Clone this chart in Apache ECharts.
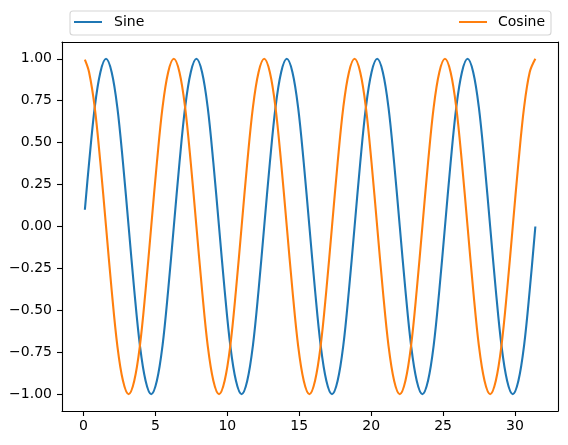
<!DOCTYPE html>
<html>
<head>
<meta charset="utf-8">
<script src="https://cdn.jsdelivr.net/npm/echarts@6/dist/echarts.min.js"></script>
<style>
html,body{margin:0;padding:0;background:#fff;}
#c{width:568px;height:445px;}
</style>
</head>
<body>
<div id="c"></div>
<script>
var xValues = [0.1,
 0.393,0.785,1.178,1.571,1.963,2.356,2.749,3.142,3.534,3.927,4.320,4.712,5.105,5.498,5.890,6.283,
 6.676,7.069,7.461,7.854,8.247,8.639,9.032,9.425,9.817,10.210,10.603,10.996,11.388,11.781,12.174,12.566,
 12.959,13.352,13.744,14.137,14.530,14.923,15.315,15.708,16.101,16.493,16.886,17.279,17.671,18.064,18.457,18.850,
 19.242,19.635,20.028,20.420,20.813,21.206,21.598,21.991,22.384,22.777,23.169,23.562,23.955,24.347,24.740,25.133,
 25.525,25.918,26.311,26.704,27.096,27.489,27.882,28.274,28.667,29.060,29.452,29.845,30.238,30.631,31.023,31.416];
var sineValues = [0.10,
 0.38,0.71,0.92,1,0.92,0.71,0.38,0,-0.38,-0.71,-0.92,-1,-0.92,-0.71,-0.38,0,
 0.38,0.71,0.92,1,0.92,0.71,0.38,0,-0.38,-0.71,-0.92,-1,-0.92,-0.71,-0.38,0,
 0.38,0.71,0.92,1,0.92,0.71,0.38,0,-0.38,-0.71,-0.92,-1,-0.92,-0.71,-0.38,0,
 0.38,0.71,0.92,1,0.92,0.71,0.38,0,-0.38,-0.71,-0.92,-1,-0.92,-0.71,-0.38,0,
 0.38,0.71,0.92,1,0.92,0.71,0.38,0,-0.38,-0.71,-0.92,-1,-0.92,-0.71,-0.38,0];
var cosineValues = [0.995,
 0.92,0.71,0.38,0,-0.38,-0.71,-0.92,-1,-0.92,-0.71,-0.38,0,0.38,0.71,0.92,1,
 0.92,0.71,0.38,0,-0.38,-0.71,-0.92,-1,-0.92,-0.71,-0.38,0,0.38,0.71,0.92,1,
 0.92,0.71,0.38,0,-0.38,-0.71,-0.92,-1,-0.92,-0.71,-0.38,0,0.38,0.71,0.92,1,
 0.92,0.71,0.38,0,-0.38,-0.71,-0.92,-1,-0.92,-0.71,-0.38,0,0.38,0.71,0.92,1,
 0.92,0.71,0.38,0,-0.38,-0.71,-0.92,-1,-0.92,-0.71,-0.38,0,0.38,0.71,0.92,1];
var xTicks = [0,5,10,15,20,25,30];
var yTicks = [-1,-0.75,-0.5,-0.25,0,0.25,0.5,0.75,1];
var seriesNames = ['Sine','Cosine'];

function pairs(ys){ return xValues.map(function(x,i){ return [x, ys[i]]; }); }
var font = 'DejaVu Sans';
var axisLineStyle = {color:'#000', width:1.1};

var chart = echarts.init(document.getElementById('c'), null, {renderer:'canvas'});
chart.setOption({
  animation:false,
  backgroundColor:'#fff',
  grid:{left:62, top:42, right:10, bottom:34, containLabel:false},
  graphic:[{type:'rect', shape:{x:70, y:11, width:481, height:24, r:3},
    style:{fill:'#fff', stroke:'#d6d6d6', lineWidth:1.1}, z:-1}],
  legend:[
    {data:[seriesNames[0]], icon:'rect', left:74, top:15, padding:0, itemWidth:28, itemHeight:2,
     textStyle:{fontFamily:font, fontSize:14, color:'#000', padding:[0,0,0,7]}},
    {data:[seriesNames[1]], icon:'rect', left:459, top:15, padding:0, itemWidth:28, itemHeight:2,
     textStyle:{fontFamily:font, fontSize:14, color:'#000', padding:[0,0,0,6]}}
  ],
  xAxis:[{type:'value', min:-1.49, max:32.99, position:'bottom',
    splitLine:{show:false},
    axisLine:{show:true, onZero:false, lineStyle:axisLineStyle},
    axisTick:{show:true, length:5, customValues:xTicks, lineStyle:axisLineStyle},
    axisLabel:{customValues:xTicks, margin:8, fontFamily:font, fontSize:14, color:'#000',
      formatter:function(v){ return String(v); }}
  },{type:'value', min:-1.49, max:32.99, position:'top',
    splitLine:{show:false}, axisLine:{show:true, onZero:false, lineStyle:axisLineStyle},
    axisTick:{show:false}, axisLabel:{show:false}}],
  yAxis:[{type:'value', min:-1.1, max:1.1, position:'left',
    splitLine:{show:false},
    axisLine:{show:true, onZero:false, lineStyle:axisLineStyle},
    axisTick:{show:true, length:5, customValues:yTicks, lineStyle:axisLineStyle},
    axisLabel:{customValues:yTicks, margin:10, fontFamily:font, fontSize:14, color:'#000',
      formatter:function(v){ return v.toFixed(2).replace('-', '\u2212'); }}
  },{type:'value', min:-1.1, max:1.1, position:'right',
    splitLine:{show:false}, axisLine:{show:true, onZero:false, lineStyle:axisLineStyle},
    axisTick:{show:false}, axisLabel:{show:false}}],
  series:[
    {name:seriesNames[0], type:'line', data:pairs(sineValues), symbol:'none', smooth:0.35,
     lineStyle:{color:'#1f77b4', width:2.1}, itemStyle:{color:'#1f77b4'}},
    {name:seriesNames[1], type:'line', data:pairs(cosineValues), symbol:'none', smooth:0.35,
     lineStyle:{color:'#ff7f0e', width:2.1}, itemStyle:{color:'#ff7f0e'}}
  ]
});
</script>
</body>
</html>
